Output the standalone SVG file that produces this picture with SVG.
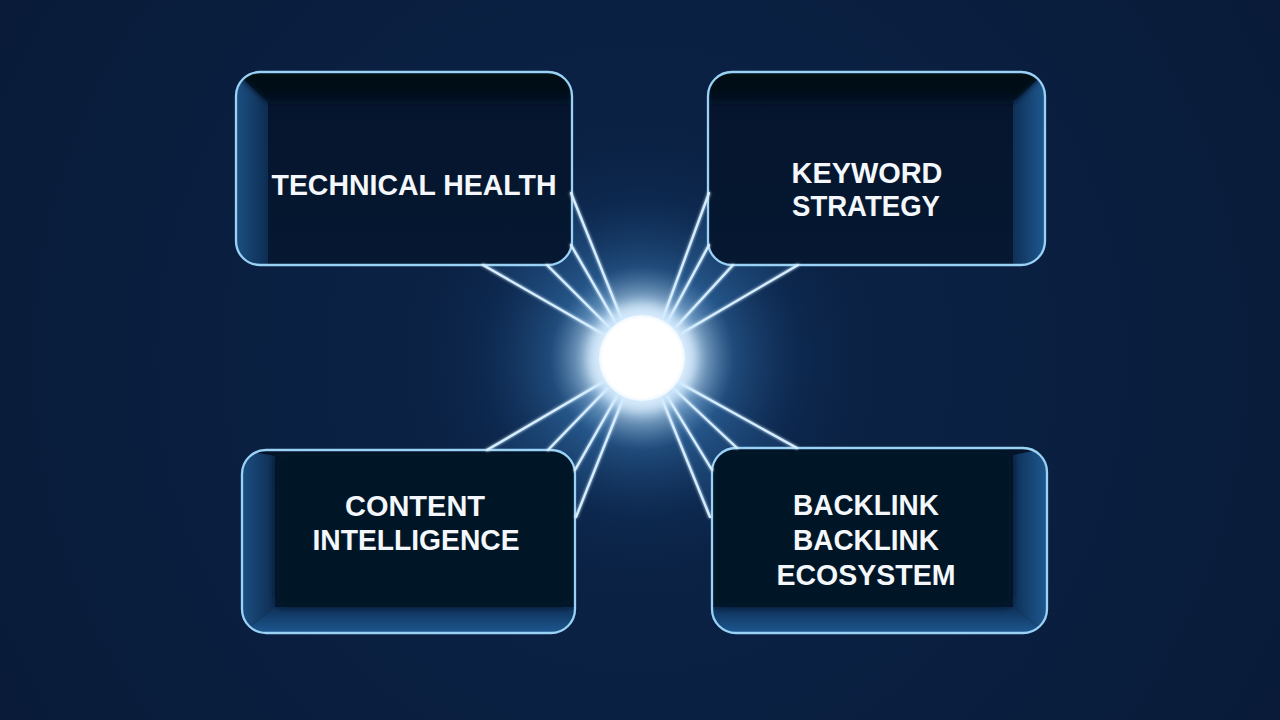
<svg xmlns="http://www.w3.org/2000/svg" width="1280" height="720" viewBox="0 0 1280 720">
  <defs>
    <radialGradient id="bg" cx="640" cy="360" r="760" gradientUnits="userSpaceOnUse">
      <stop offset="0" stop-color="#0b2448"/>
      <stop offset="0.6" stop-color="#0a1f40"/>
      <stop offset="1" stop-color="#081a36"/>
    </radialGradient>
    <radialGradient id="glow" cx="642" cy="358" r="230" gradientUnits="userSpaceOnUse">
      <stop offset="0" stop-color="#ffffff" stop-opacity="1"/>
      <stop offset="0.18" stop-color="#ffffff" stop-opacity="0.95"/>
      <stop offset="0.25" stop-color="#b5dbf8" stop-opacity="0.75"/>
      <stop offset="0.4" stop-color="#3f86c8" stop-opacity="0.4"/>
      <stop offset="0.7" stop-color="#1a4a85" stop-opacity="0.14"/>
      <stop offset="1" stop-color="#0c2850" stop-opacity="0"/>
    </radialGradient>
    <radialGradient id="core" cx="642" cy="358" r="46" gradientUnits="userSpaceOnUse">
      <stop offset="0" stop-color="#ffffff"/>
      <stop offset="0.85" stop-color="#ffffff"/>
      <stop offset="1" stop-color="#e4f3ff" stop-opacity="0.9"/>
    </radialGradient>
    <linearGradient id="topBand" x1="0" y1="0" x2="0" y2="1">
      <stop offset="0" stop-color="#01060f"/>
      <stop offset="0.7" stop-color="#030b19"/>
      <stop offset="1" stop-color="#051329"/>
    </linearGradient>
    <linearGradient id="bevL" x1="0" y1="0" x2="1" y2="0">
      <stop offset="0" stop-color="#1c4f82"/>
      <stop offset="1" stop-color="#0d2d52"/>
    </linearGradient>
    <linearGradient id="bevR" x1="1" y1="0" x2="0" y2="0">
      <stop offset="0" stop-color="#1e5990"/>
      <stop offset="1" stop-color="#0e3058"/>
    </linearGradient>
    <linearGradient id="bevB" x1="0" y1="1" x2="0" y2="0">
      <stop offset="0" stop-color="#1d5890"/>
      <stop offset="1" stop-color="#0e3058"/>
    </linearGradient>
    <linearGradient id="panel" x1="0" y1="0" x2="0" y2="1">
      <stop offset="0" stop-color="#05142b"/>
      <stop offset="1" stop-color="#061832"/>
    </linearGradient>
    <clipPath id="cTL"><rect x="236" y="72" width="336" height="193" rx="24"/></clipPath>
    <clipPath id="cTR"><rect x="708" y="72" width="337" height="193" rx="24"/></clipPath>
    <clipPath id="cBL"><rect x="242" y="450" width="333" height="183" rx="24"/></clipPath>
    <clipPath id="cBR"><rect x="712" y="448" width="335" height="185" rx="24"/></clipPath>
    <filter id="blur" x="-50%" y="-50%" width="200%" height="200%">
      <feGaussianBlur stdDeviation="6"/>
    </filter>
    <filter id="soft" x="-20%" y="-20%" width="140%" height="140%">
      <feGaussianBlur stdDeviation="3"/>
    </filter>
    <filter id="lineGlow" x="-10%" y="-10%" width="120%" height="120%">
      <feGaussianBlur stdDeviation="1.5" result="b"/>
      <feMerge><feMergeNode in="b"/><feMergeNode in="SourceGraphic"/></feMerge>
    </filter>
  </defs>
  <style>
    .outline { fill: none; stroke: #9ad2f5; stroke-width: 2.3; }
    .lbl { font-family: "Liberation Sans", Arial, sans-serif; font-weight: bold; font-size: 29px; fill: #f4f8fc; text-anchor: middle; }
    .conn line { stroke: #d6eeff; stroke-width: 2.3; stroke-linecap: round; }
    .fan { fill: #3f86c8; opacity: 0.18; }
  </style>

  <rect width="1280" height="720" fill="url(#bg)"/>
  <circle cx="642" cy="358" r="230" fill="url(#glow)"/>

  <!-- fan shading -->
  <g id="fans">
    <polygon class="fan" points="572,193 572,241 548,265 483,265 603,334 622,320"/>
    <polygon class="fan" points="708,193 708,241 732,265 798,265 682,333 663,318"/>
    <polygon class="fan" points="487,450 551,450 575,474 576,517 623,399 603,382"/>
    <polygon class="fan" points="797,448 736,448 712,472 710,517 662,399 678,382"/>
  </g>

  <g id="node-technical-health">
    <g clip-path="url(#cTL)">
      <rect x="236" y="72" width="336" height="193" fill="url(#panel)"/>
      <polygon points="236,72 268,102 268,265 236,265" fill="url(#bevL)"/>
      <polygon points="236,72 572,72 572,102 268,102" fill="url(#topBand)" filter="url(#soft)"/>
    </g>
    <rect class="outline" x="236" y="72" width="336" height="193" rx="24"/>
    <text class="lbl" x="414" y="195" textLength="285" lengthAdjust="spacingAndGlyphs">TECHNICAL HEALTH</text>
  </g>

  <g id="node-keyword-strategy">
    <g clip-path="url(#cTR)">
      <rect x="708" y="72" width="337" height="193" fill="url(#panel)"/>
      <polygon points="1045,72 1013,102 1013,265 1045,265" fill="url(#bevR)"/>
      <polygon points="708,72 1045,72 1013,102 708,102" fill="url(#topBand)" filter="url(#soft)"/>
    </g>
    <rect class="outline" x="708" y="72" width="337" height="193" rx="24"/>
    <text class="lbl" x="867" y="183" textLength="151" lengthAdjust="spacingAndGlyphs">KEYWORD</text>
    <text class="lbl" x="866" y="216" textLength="148" lengthAdjust="spacingAndGlyphs">STRATEGY</text>
  </g>

  <g id="node-content-intelligence">
    <g clip-path="url(#cBL)">
      <rect x="242" y="450" width="333" height="183" fill="url(#panel)"/>
      <polygon points="242,450 275,456 275,607 242,633" fill="url(#bevL)"/>
      <polygon points="275,607 575,607 575,633 242,633" fill="url(#bevB)"/>
      <rect x="275" y="452" width="300" height="155" rx="10" fill="#051327" filter="url(#soft)"/>
    </g>
    <rect class="outline" x="242" y="450" width="333" height="183" rx="24"/>
    <text class="lbl" x="415" y="516" textLength="140" lengthAdjust="spacingAndGlyphs">CONTENT</text>
    <text class="lbl" x="416" y="550" textLength="207" lengthAdjust="spacingAndGlyphs">INTELLIGENCE</text>
  </g>

  <g id="node-backlink-ecosystem">
    <g clip-path="url(#cBR)">
      <rect x="712" y="448" width="335" height="185" fill="url(#panel)"/>
      <polygon points="1047,448 1013,455 1013,607 1047,633" fill="url(#bevR)"/>
      <polygon points="712,607 1013,607 1047,633 712,633" fill="url(#bevB)"/>
      <rect x="712" y="450" width="301" height="157" rx="10" fill="#051327" filter="url(#soft)"/>
    </g>
    <rect class="outline" x="712" y="448" width="335" height="185" rx="24"/>
    <text class="lbl" x="866" y="515" textLength="146" lengthAdjust="spacingAndGlyphs">BACKLINK</text>
    <text class="lbl" x="866" y="550" textLength="146" lengthAdjust="spacingAndGlyphs">BACKLINK</text>
    <text class="lbl" x="866" y="585" textLength="179" lengthAdjust="spacingAndGlyphs">ECOSYSTEM</text>
  </g>

  <g id="connectors" class="conn" filter="url(#lineGlow)">
    <line x1="571" y1="193" x2="622" y2="320"/>
    <line x1="571" y1="245" x2="616" y2="323"/>
    <line x1="547" y1="265" x2="610" y2="328"/>
    <line x1="483" y1="265" x2="603" y2="334"/>
    <line x1="709" y1="193" x2="663" y2="318"/>
    <line x1="709" y1="245" x2="668" y2="321"/>
    <line x1="733" y1="265" x2="676" y2="327"/>
    <line x1="798" y1="265" x2="682" y2="333"/>
    <line x1="487" y1="450" x2="603" y2="382"/>
    <line x1="548" y1="450" x2="608" y2="388"/>
    <line x1="575" y1="470" x2="617" y2="396"/>
    <line x1="576" y1="517" x2="623" y2="399"/>
    <line x1="797" y1="448" x2="678" y2="382"/>
    <line x1="737" y1="448" x2="673" y2="388"/>
    <line x1="712" y1="470" x2="667" y2="396"/>
    <line x1="710" y1="517" x2="662" y2="399"/>
  </g>

  <g id="node-hub">
    <circle cx="642" cy="358" r="54" fill="#cfe9ff" opacity="0.75" filter="url(#blur)"/>
    <circle cx="642" cy="358" r="43" fill="url(#core)"/>
  </g>
</svg>
